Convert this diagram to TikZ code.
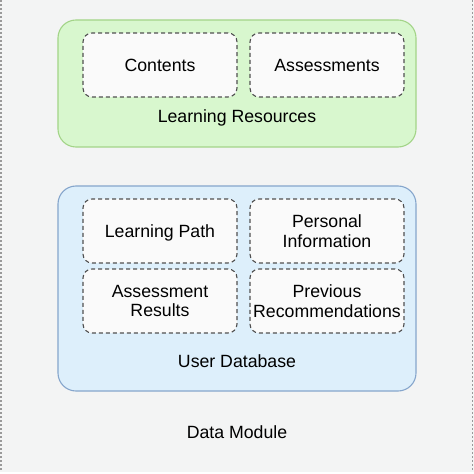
\documentclass[tikz,border=0pt]{standalone}
\usepackage{fontspec}
\setmainfont{Liberation Sans}
\usepackage{xcolor}
\usetikzlibrary{arrows.meta}

\definecolor{bgGrey}{HTML}{F3F4F4}
\definecolor{edgeGrey}{HTML}{9A9A9A}
\definecolor{resFill}{HTML}{D8F7CE}
\definecolor{resEdge}{HTML}{A3D488}
\definecolor{userFill}{HTML}{DDEFFB}
\definecolor{userEdge}{HTML}{86A6CC}
\definecolor{itemFill}{HTML}{FAFAFA}
\definecolor{itemEdge}{HTML}{505050}

\tikzset{
  groupbox/.style={draw,line width=1.1bp,rounded corners=18bp,minimum width=358bp,inner sep=0pt},
  itembox/.style={draw=itemEdge,fill=itemFill,line width=1.1bp,dash pattern=on 4bp off 3bp,
    rounded corners=9bp,minimum width=154bp,minimum height=64bp,inner sep=0pt,align=center},
  oneline/.style={text depth=0pt},
  caption/.style={inner sep=0pt,oneline}
}

\begin{document}
\begin{tikzpicture}[x=1bp,y=-1bp,font=\fontsize{17.7bp}{19.5bp}\selectfont]
  \useasboundingbox (0,0) rectangle (474,474);
  \fill[bgGrey] (0,0) rectangle (474,472);
  \draw[edgeGrey,line width=1.5bp,dash pattern=on 2bp off 2bp] (1,0) -- (1,472) (472.5,0) -- (472.5,472);
  % learning resources
  \node[groupbox,draw=resEdge,fill=resFill,minimum height=127bp] (res) at (237,83.5) {};
  \node[itembox,oneline] (contents) at (160,65) {Contents};
  \node[itembox,oneline] (assess) at (327,65) {Assessments};
  \node[caption] (resLabel) at (237,116) {Learning Resources};
  % user database
  \node[groupbox,draw=userEdge,fill=userFill,minimum height=205bp] (user) at (237,288.5) {};
  \node[itembox,oneline] (path) at (160,231) {Learning Path};
  \node[itembox] (info) at (327,231) {Personal\\Information};
  \node[itembox] (results) at (160,301) {Assessment\\Results};
  \node[itembox] (recs) at (327,301) {Previous\\Recommendations};
  \node[caption] (userLabel) at (237,361) {User Database};
  \node[caption] (module) at (237,432) {Data Module};
\end{tikzpicture}
\end{document}
